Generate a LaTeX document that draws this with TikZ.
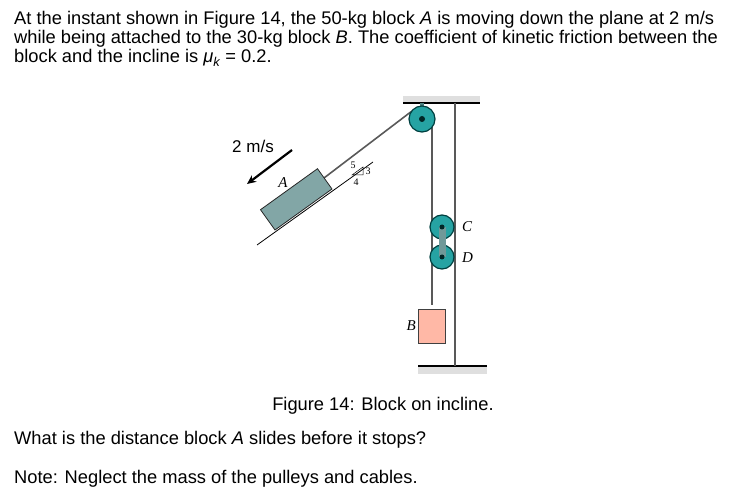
\documentclass[tikz,border=0pt]{standalone}
\usepackage{fontspec}
\usetikzlibrary{arrows.meta}
\setmainfont{Liberation Sans}
\newfontfamily\serifi{Liberation Serif}
\begin{document}
\begin{tikzpicture}[x=1pt,y=-1pt,
  txt/.style={anchor=west,inner sep=0pt,font=\fontsize{18.3}{20}\selectfont},
  lbl/.style={inner sep=0pt,font=\serifi\itshape\fontsize{15}{16}\selectfont},
  rope/.style={draw=gray!70!black,line width=1.6pt},
  pul/.style={circle,draw=teal!50!black,fill=teal!60!cyan!70!gray,line width=1.2pt,minimum size=26pt,inner sep=0pt},
  surf/.style={fill=gray!25,draw=none}]
\useasboundingbox (0,0) rectangle (755,494);
\node[txt] (t1) at (14,20) {At the instant shown in Figure 14, the 50-kg block \textit{A} is moving down the plane at 2 m/s};
\node[txt] (t2) at (14,39) {while being attached to the 30-kg block \textit{B}. The coefficient of kinetic friction between the};
\node[txt] (t3) at (14,58) {block and the incline is \textit{μ\textsubscript{k}} = 0.2.};
% ceiling and floor
\fill[surf] (403,96) rectangle (480,103);
\draw[line width=1.2pt] (403,103) -- (480,103);
\fill[surf] (418,366) rectangle (487,374);
\draw[line width=1.2pt] (418,366) -- (487,366);
% incline
\draw[line width=0.8pt] (257,245) -- (373,162);
% ropes
\draw[rope] (455,103) -- (455,366);
\draw[rope] (432,119) -- (432,305);
\draw[rope] (412,111) -- (324,178);
% pulleys
\draw[line width=4pt,teal!40!gray] (422,103) -- (422,119);
\node[pul] (P) at (422,119) {};
\fill[teal!30!black] (P) circle (3pt);
\node[pul,minimum size=24pt] (C) at (442,227) {};
\node[pul,minimum size=24pt] (D) at (442,257) {};
\draw[line width=7pt,teal!40!gray!80!white] (C.center) -- (D.center);
\fill[teal!30!black] (C) circle (2.5pt) (D) circle (2.5pt);
\node[lbl,anchor=west] (Cl) at (462,227) {C};
\node[lbl,anchor=west] (Dl) at (462,258) {D};
% block B
\node[draw=gray!50!black,fill=orange!40!red!35!white,minimum width=27pt,minimum height=34pt,inner sep=0pt] (B) at (432,326) {};
\node[lbl,anchor=east] (Bl) at (416,326) {B};
% block A
\filldraw[fill=teal!40!gray!70!white,draw=gray!30!black,line width=0.8pt] (275,230) -- (332,189) -- (317.5,168.7) -- (260.5,209.7) -- cycle;
\node[lbl] (Al) at (283,183) {A};
% slope triangle
\draw[line width=0.5pt] (352,175) -- (363,167) -- (363,175) -- cycle;
\node[lbl,font=\serifi\fontsize{10}{10}\selectfont] at (353,165) {5};
\node[lbl,font=\serifi\fontsize{10}{10}\selectfont] at (368,171) {3};
\node[lbl,font=\serifi\fontsize{10}{10}\selectfont] at (356,182) {4};
% velocity arrow
\coordinate (v1) at (292,150);
\coordinate (v2) at (247,184);
\draw[line width=2.2pt,-{Stealth[length=9pt,width=8pt]}] (v1) -- (v2);
\node[inner sep=0pt,font=\fontsize{17}{18}\selectfont] (vl) at (253,146) {2 m/s};
% caption and questions
\node[inner sep=0pt,font=\fontsize{18.3}{20}\selectfont] (cap) at (383,406) {Figure 14: Block on incline.};
\node[txt] (q1) at (14,440) {What is the distance block \textit{A} slides before it stops?};
\node[txt] (q2) at (14,479) {Note: Neglect the mass of the pulleys and cables.};
\end{tikzpicture}
\end{document}
